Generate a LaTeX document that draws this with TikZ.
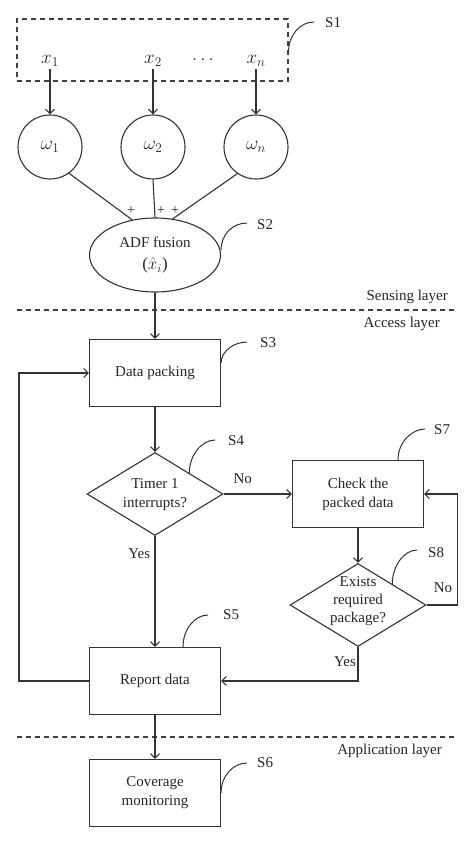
\RequirePackage{fix-cm}
\documentclass[tikz,border=0pt]{standalone}
\usepackage{fontspec}
\setmainfont{Liberation Serif}
\usetikzlibrary{shapes.geometric,arrows.meta}
\begin{document}
\begin{tikzpicture}[x=1pt,y=-1pt,
  every node/.style={font=\fontsize{15}{19}\selectfont, text=black!85},
  line/.style={draw=black!80, line width=1.1pt},
  arr/.style={line,-{Straight Barb[length=4.5pt,width=9pt]}},
  stepbox/.style={line, rectangle, minimum width=131pt, minimum height=67pt, inner sep=0pt, align=center},
  dia/.style={line, diamond, minimum width=136pt, minimum height=83pt, inner sep=0pt},
  circ/.style={line, circle, minimum size=64pt, inner sep=0pt, font=\fontsize{19}{22}\selectfont},
  mathlab/.style={inner sep=2pt, font=\fontsize{19}{22}\selectfont},
  layerline/.style={draw=black!75, line width=1.1pt, dash pattern=on 5pt off 4pt},
  callout/.style={draw=black!80, line width=1pt},
  slabel/.style={anchor=west, inner sep=0pt},
  layerlabel/.style={anchor=east, inner sep=0pt},
  plus/.style={inner sep=0pt, font=\fontsize{14}{15}\selectfont},
]
\useasboundingbox (0,0) rectangle (474,845);
\fill[white] (0,0) rectangle (474,845);

% S1 group
\node[layerline, rectangle, minimum width=271pt, minimum height=62pt, inner sep=0pt] (s1box) at (152.5,50) {};
\node[mathlab] (x1) at (50,61) {$x_1$};
\node[mathlab] (x2) at (153,61) {$x_2$};
\node[mathlab, inner sep=0pt] (dots) at (203,60) {$\dots$};
\node[mathlab] (xn) at (256,61) {$x_n$};

\node[circ] (w1) at (50,147) {$\omega_1$};
\node[circ] (w2) at (153,147) {$\omega_2$};
\node[circ] (wn) at (256,147) {$\omega_n$};

\draw[arr] (x1.south) -- (w1.north);
\draw[arr] (x2.south) -- (w2.north);
\draw[arr] (xn.south) -- (wn.north);

\node[line, ellipse, minimum width=131pt, minimum height=74pt, inner sep=0pt, align=center] (adf) at (155,255) {ADF fusion\\[3pt]{\fontsize{17}{19}\selectfont($\hat{x}_i$)}};

\draw[line] (w1.-54) -- (adf.123);
\draw[line] (w2.south) -- (adf.north);
\draw[line] (wn.-125) -- (adf.64);

\node[plus] (p1) at (131,211) {+};
\node[plus] (p2) at (161,211) {+};
\node[plus] (p3) at (175,211) {+};

% layers
\draw[layerline] (17,310) -- (455,310);
\draw[layerline] (17,737) -- (455,737);
\node[layerlabel] (lsens) at (448,297) {Sensing layer};
\node[layerlabel] (lacc) at (440,324) {Access layer};
\node[layerlabel] (lapp) at (442,751) {Application layer};

% flow
\node[stepbox] (dp) at (155,373) {Data packing};
\node[dia] (d4) at (155,494) {};
\node[align=center, inner sep=0pt] (d4t) at (155,495) {Timer 1\\interrupts?};
\node[stepbox] (ck) at (358,494) {Check the\\packed data};
\node[dia] (d8) at (358,605) {};
\node[align=center, inner sep=0pt, font=\fontsize{15}{18}\selectfont] (d8t) at (358,601) {Exists\\required\\package?};
\node[stepbox] (rd) at (155,681) {Report data};
\node[stepbox] (cov) at (155,793) {Coverage\\monitoring};

\draw[arr] (adf.south) -- (dp.north);
\draw[arr] (dp.south) -- (d4.north);
\draw[arr] (d4.east) -- node[above=6pt, pos=0.28] (no1) {No} (ck.west);
\draw[arr] (d4.south) -- node[left=1pt, pos=0.16] (yes1) {Yes} (rd.north);
\draw[arr] (ck.south) -- (d8.north);
\draw[arr] (d8.east) -- ++(31,0) |- (ck.east);
\node (no2) at (443,588) {No};
\draw[arr] (d8.south) |- (rd.east);
\node (yes2) at (345,662) {Yes};
\draw[arr] (rd.west) -- ++(-70,0) |- (dp.west);
\draw[arr] (rd.south) -- (cov.north);

% callouts
\coordinate (c1) at (314,22);
\coordinate (c2) at (247,223);
\coordinate (c3) at (247,342);
\coordinate (c4) at (215,440);
\coordinate (c5) at (208,615);
\coordinate (c6) at (247,763);
\coordinate (c7) at (425,429);
\coordinate (c8) at (417,550);
\draw[callout] ([yshift=-2pt]s1box.east) .. controls +(0,-17) and +(-14,0) .. (c1);
\draw[callout] ([yshift=5pt]adf.east) .. controls +(0,-16) and +(-14,0) .. (c2);
\draw[callout] ([yshift=10pt]dp.east) .. controls +(0,-12) and +(-13,0) .. (c3);
\draw[callout] (d4.north east) .. controls +(0,-18) and +(-13,0) .. (c4);
\draw[callout] ([xshift=28pt]rd.north) .. controls +(0,-18) and +(-13,0) .. (c5);
\draw[callout] (cov.east) .. controls +(0,-18) and +(-13,0) .. (c6);
\draw[callout] ([xshift=40pt]ck.north) .. controls +(0,-18) and +(-13,0) .. (c7);
\draw[callout] (d8.north east) .. controls +(0,-18) and +(-13,0) .. (c8);

\node[slabel] (s1) at (325,23) {S1};
\node[slabel] (s2) at (257,225) {S2};
\node[slabel] (s3) at (260,343) {S3};
\node[slabel] (s4) at (228,441) {S4};
\node[slabel] (s5) at (223,615) {S5};
\node[slabel] (s6) at (257,763) {S6};
\node[slabel] (s7) at (434,430) {S7};
\node[slabel] (s8) at (428,553) {S8};
\end{tikzpicture}
\end{document}
